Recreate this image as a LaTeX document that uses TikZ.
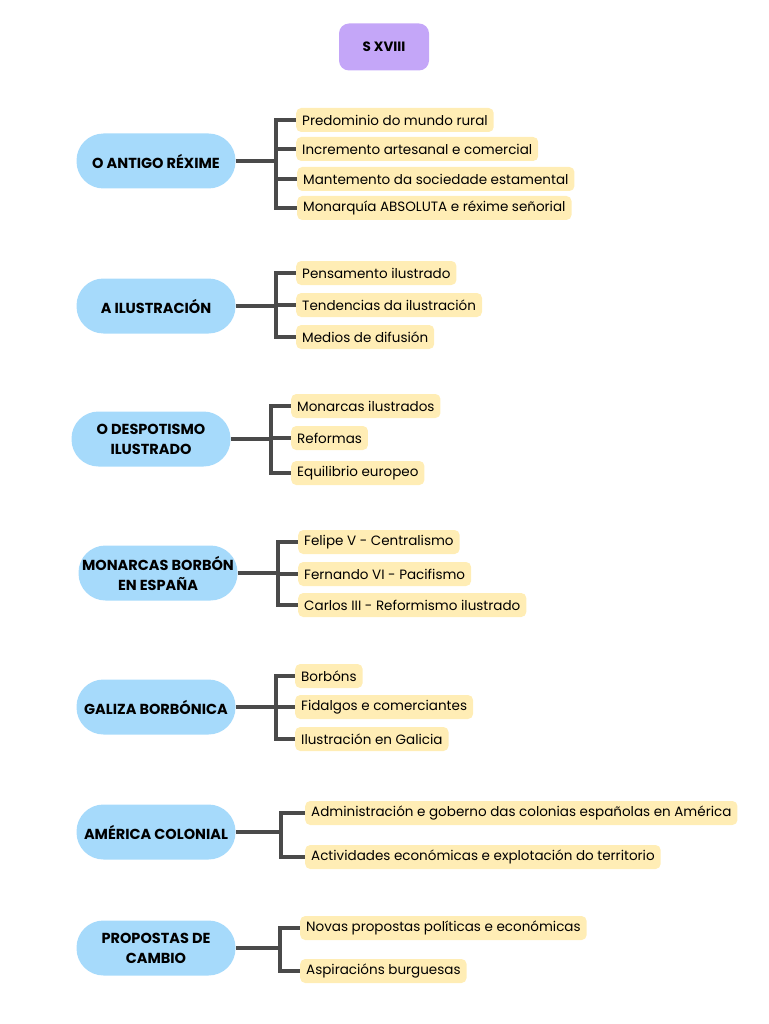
\documentclass[tikz,border=0pt]{standalone}
\usepackage{fontspec}
\setmainfont{Poppins}
\usetikzlibrary{positioning}

\definecolor{pillblue}{HTML}{A6DAFB}
\definecolor{leafyellow}{HTML}{FFEDB5}
\definecolor{titlepurple}{HTML}{C4A6F8}
\definecolor{linegray}{HTML}{4A4A4A}

\tikzset{
  titlebox/.style={fill=titlepurple, rounded corners=10pt, minimum width=90pt, minimum height=47pt, font=\bfseries\fontsize{13.5}{16}\selectfont},
  topic/.style={fill=pillblue, rounded corners=27pt, minimum width=159pt, minimum height=55pt, align=center, font=\bfseries\fontsize{14.5}{20}\selectfont},
  item/.style={fill=leafyellow, rounded corners=5pt, anchor=west, minimum height=24pt, inner xsep=6pt, font=\fontsize{13.5}{15}\selectfont},
  link/.style={linegray, line width=3.5pt, line join=miter}
}

\begin{document}
\begin{tikzpicture}[x=1pt, y=-1pt]
    \useasboundingbox (0,0) rectangle (768,1024);

    % Title
    \node[titlebox] (sxviii) at (384,47) {S XVIII};

    % O antigo rexime
    \node[topic] (rexime) at (156,161) {O ANTIGO RÉXIME};
    \node[item] (rex1) at (296,120) {Predominio do mundo rural};
    \node[item] (rex2) at (296,149) {Incremento artesanal e comercial};
    \node[item] (rex3) at (297,179) {Mantemento da sociedade estamental};
    \node[item] (rex4) at (297,208) {Monarquía ABSOLUTA e réxime señorial};
    \coordinate (rexjoin) at (276,161);
    \draw[link] (rexime) -- (rexjoin);
    \foreach \n in {1,...,4} \draw[link] (rexjoin) |- (rex\n.west);

    % A ilustracion
    \node[topic] (ilus) at (156,306) {A ILUSTRACIÓN};
    \node[item] (ilus1) at (296,273) {Pensamento ilustrado};
    \node[item] (ilus2) at (296,305) {Tendencias da ilustración};
    \node[item] (ilus3) at (296,337) {Medios de difusión};
    \coordinate (ilusjoin) at (276,306);
    \draw[link] (ilus) -- (ilusjoin);
    \foreach \n in {1,...,3} \draw[link] (ilusjoin) |- (ilus\n.west);

    % O despotismo ilustrado
    \node[topic] (desp) at (151,439) {O DESPOTISMO\\ILUSTRADO};
    \node[item] (desp1) at (291,406) {Monarcas ilustrados};
    \node[item] (desp2) at (291,438) {Reformas};
    \node[item] (desp3) at (291,473) {Equilibrio europeo};
    \coordinate (despjoin) at (271,439);
    \draw[link] (desp) -- (despjoin);
    \foreach \n in {1,...,3} \draw[link] (despjoin) |- (desp\n.west);

    % Monarcas borbon
    \node[topic] (borb) at (158,573) {MONARCAS BORBÓN\\EN ESPAÑA};
    \node[item] (borb1) at (298,542) {Felipe V - Centralismo};
    \node[item] (borb2) at (298,574) {Fernando VI - Pacifismo};
    \node[item] (borb3) at (298,605) {Carlos III - Reformismo ilustrado};
    \coordinate (borbjoin) at (278,573);
    \draw[link] (borb) -- (borbjoin);
    \foreach \n in {1,...,3} \draw[link] (borbjoin) |- (borb\n.west);

    % Galiza borbonica
    \node[topic] (gal) at (156,707) {GALIZA BORBÓNICA};
    \node[item] (gal1) at (295,676) {Borbóns};
    \node[item] (gal2) at (295,707) {Fidalgos e comerciantes};
    \node[item] (gal3) at (295,739) {Ilustración en Galicia};
    \coordinate (galjoin) at (276,707);
    \draw[link] (gal) -- (galjoin);
    \foreach \n in {1,...,3} \draw[link] (galjoin) |- (gal\n.west);

    % America colonial
    \node[topic] (amer) at (156,832) {AMÉRICA COLONIAL};
    \node[item] (amer1) at (305,813) {Administración e goberno das colonias españolas en América};
    \node[item] (amer2) at (305,857) {Actividades económicas e explotación do territorio};
    \coordinate (amerjoin) at (281,832);
    \draw[link] (amer) -- (amerjoin);
    \foreach \n in {1,2} \draw[link] (amerjoin) |- (amer\n.west);

    % Propostas de cambio
    \node[topic] (prop) at (156,948) {PROPOSTAS DE\\CAMBIO};
    \node[item] (prop1) at (300,928) {Novas propostas políticas e económicas};
    \node[item] (prop2) at (300,971) {Aspiracións burguesas};
    \coordinate (propjoin) at (280,948);
    \draw[link] (prop) -- (propjoin);
    \foreach \n in {1,2} \draw[link] (propjoin) |- (prop\n.west);
\end{tikzpicture}
\end{document}
